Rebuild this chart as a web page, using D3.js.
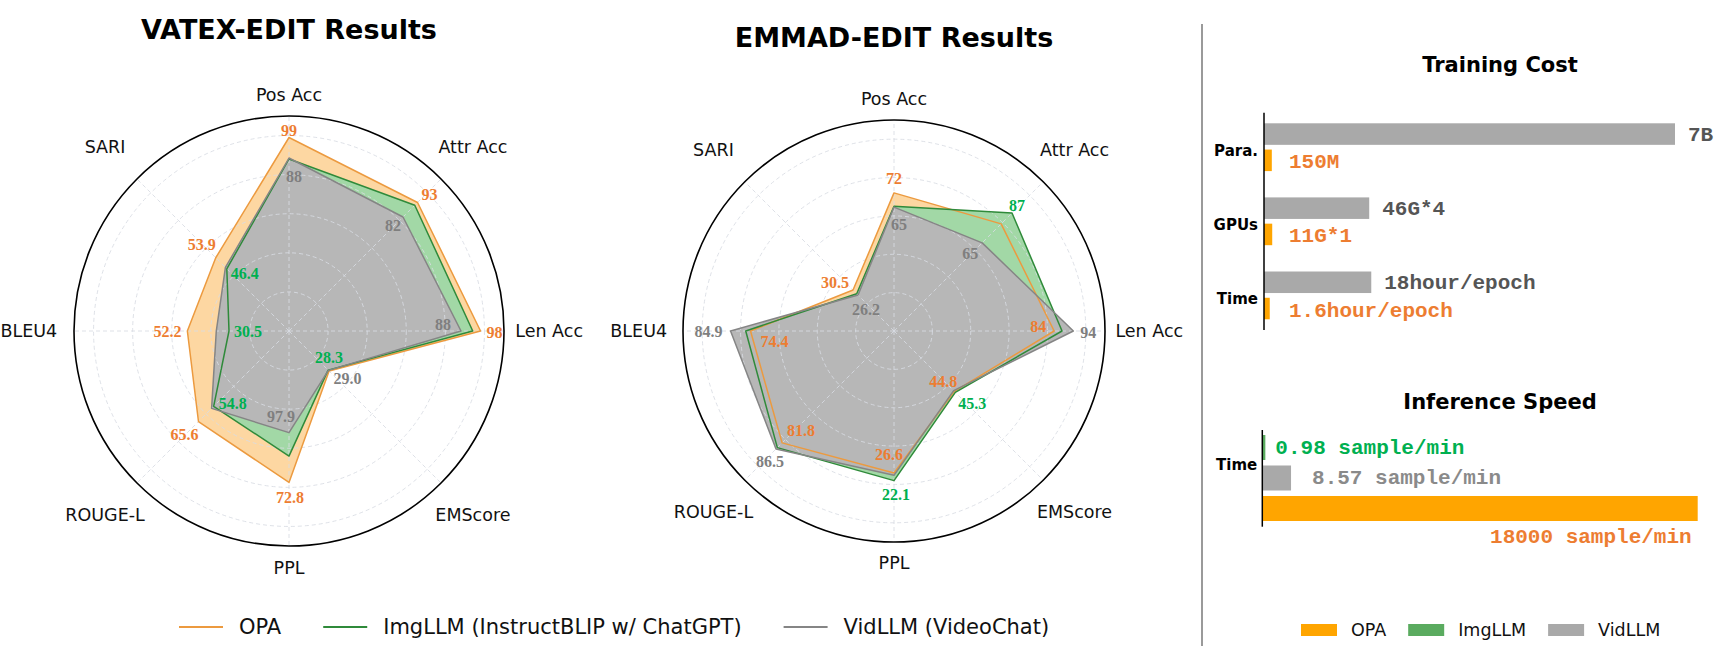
<!DOCTYPE html>
<html>
<head>
<meta charset="utf-8">
<script src="https://cdn.jsdelivr.net/npm/d3@7"></script>
<style>
  body { margin: 0; background: #fff; }
  svg { display: block; }
</style>
</head>
<body>
<div id="chart"></div>
<script>
// radar axes, clockwise from the top
var axes = ["Pos Acc", "Attr Acc", "Len Acc", "EMScore", "PPL", "ROUGE-L", "BLEU4", "SARI"];
var seriesNames = ["OPA", "ImgLLM (InstructBLIP w/ ChatGPT)", "VidLLM (VideoChat)"];

// normalised scores (radial scale runs 0 .. 1.1)
var vatexOPA = [0.99, 0.93, 0.98, 0.29, 0.775, 0.655, 0.52, 0.53];
var vatexImg = [0.88, 0.91, 0.94, 0.283, 0.64, 0.545, 0.307, 0.45];
var vatexVid = [0.885, 0.825, 0.88, 0.285, 0.52, 0.56, 0.372, 0.46];

var emmadOPA = [0.72, 0.79, 0.835, 0.445, 0.74, 0.825, 0.748, 0.302];
var emmadImg = [0.65, 0.87, 0.876, 0.452, 0.78, 0.86, 0.773, 0.275];
var emmadVid = [0.646, 0.65, 0.935, 0.44, 0.752, 0.87, 0.852, 0.265];

// value labels: [series, axis, text]
var vatexLabels = [
  [0, 0, "99"], [0, 1, "93"], [0, 2, "98"], [0, 7, "53.9"], [0, 6, "52.2"], [0, 5, "65.6"], [0, 4, "72.8"],
  [1, 7, "46.4"], [1, 6, "30.5"], [1, 3, "28.3"], [1, 5, "54.8"],
  [2, 0, "88"], [2, 1, "82"], [2, 2, "88"], [2, 3, "29.0"], [2, 4, "97.9"]
];
var emmadLabels = [
  [0, 0, "72"], [0, 7, "30.5"], [0, 6, "74.4"], [0, 5, "81.8"], [0, 4, "26.6"], [0, 3, "44.8"], [0, 2, "84"],
  [1, 1, "87"], [1, 3, "45.3"], [1, 4, "22.1"],
  [2, 0, "65"], [2, 1, "65"], [2, 7, "26.2"], [2, 6, "84.9"], [2, 5, "86.5"], [2, 2, "94"]
];

// training cost (bar lengths relative to the 7B bar)
var costCats = ["Para.", "GPUs", "Time"];
var costVid = [1.0, 0.256, 0.261];
var costOPA = [0.019, 0.02, 0.014];
var costVidText = ["7B", "46G*4", "18hour/epoch"];
var costOPAText = ["150M", "11G*1", "1.6hour/epoch"];

// inference speed (bar lengths relative to the OPA bar)
var speedCats = ["ImgLLM", "VidLLM", "OPA"];
var speedVals = [0.007, 0.066, 1.0];
var speedText = ["0.98 sample/min", "8.57 sample/min", "18000 sample/min"];

var barLegend = ["OPA", "ImgLLM", "VidLLM"];

// styles
var lineColors = ["#ec9a3f", "#2f8a3a", "#858585"];
var fillColors = ["#fdd7a2", "#a2d8a6", "#b7b7b7"];
var textColors = ["#ed7d31", "#00b050", "#7f7f7f"];
var barColors = { OPA: "#ffa500", ImgLLM: "#5aab5f", VidLLM: "#a9a9a9" };

// nudges (px) of the value labels from their vertex, same order as the label lists
var vatexNudge = [
  [0, -7], [12, -8], [14, 1], [-14, -13], [-20, 0], [-14, 13], [1, 15],
  [18, 5], [19, 0], [1, -13], [19, -3],
  [5, 18], [-10, 9], [-18, -7], [19, 8], [-8, -16]
];
var emmadNudge = [
  [0, -14], [-18, -8], [24, 10], [19, -12], [-5, -18], [-11, -10], [-16, -5],
  [5, -8], [17, 11], [2, 14],
  [5, 17], [-12, 11], [8, 14], [-22, 0], [-6, 12], [15, 1]
];

var W = 1724, H = 669;
var sans = "'DejaVu Sans', sans-serif";
var serif = "'Liberation Serif', 'Times New Roman', serif";
var mono = "'Liberation Mono', 'Courier New', monospace";

var svg = d3.select("#chart").append("svg")
    .attr("width", W)
    .attr("height", H);

svg.append("rect").attr("width", W).attr("height", H).attr("fill", "#fff");

function drawRadar(opts) {
    var g = svg.append("g")
        .attr("transform", "translate(" + opts.cx + "," + opts.cy + ")");

    var r = d3.scaleLinear().domain([0, 1.1]).range([0, opts.R]);
    var step = 2 * Math.PI / axes.length;
    var ang = function(i) { return i * step; };

    var radial = d3.lineRadial()
        .angle(function(d, i) { return ang(i); })
        .radius(function(d) { return r(d); })
        .curve(d3.curveLinearClosed);

    // fills
    g.selectAll("path.fill")
        .data(opts.series)
        .enter().append("path")
        .attr("class", "fill")
        .attr("d", radial)
        .attr("fill", function(d, i) { return fillColors[i]; });

    // dashed grid
    g.selectAll("circle.ring")
        .data([0.2, 0.4, 0.6, 0.8, 1.0])
        .enter().append("circle")
        .attr("class", "ring")
        .attr("r", function(d) { return r(d); })
        .attr("fill", "none")
        .attr("stroke", "#d8dce3")
        .attr("stroke-opacity", 0.85)
        .attr("stroke-width", 1)
        .attr("stroke-dasharray", "4,3");

    g.selectAll("line.spoke")
        .data(axes)
        .enter().append("line")
        .attr("class", "spoke")
        .attr("x1", 0).attr("y1", 0)
        .attr("x2", function(d, i) { return r(1.1) * Math.sin(ang(i)); })
        .attr("y2", function(d, i) { return -r(1.1) * Math.cos(ang(i)); })
        .attr("stroke", "#d8dce3")
        .attr("stroke-opacity", 0.85)
        .attr("stroke-width", 1)
        .attr("stroke-dasharray", "4,3");

    // outlines
    g.selectAll("path.edge")
        .data(opts.series)
        .enter().append("path")
        .attr("class", "edge")
        .attr("d", radial)
        .attr("fill", "none")
        .attr("stroke", function(d, i) { return lineColors[i]; })
        .attr("stroke-width", 1.5)
        .attr("stroke-linejoin", "round");

    // outer frame
    g.append("circle")
        .attr("r", r(1.1))
        .attr("fill", "none")
        .attr("stroke", "#000")
        .attr("stroke-width", 1.6);

    // axis names
    g.selectAll("text.axis")
        .data(axes)
        .enter().append("text")
        .attr("class", "axis")
        .attr("x", function(d, i) {
            var k = Math.abs(Math.sin(ang(i))) < 0.01 ? 1.10 : 1.21;
            return opts.R * k * Math.sin(ang(i));
        })
        .attr("y", function(d, i) {
            var k = Math.abs(Math.sin(ang(i))) < 0.01 ? 1.10 : 1.21;
            return -opts.R * k * Math.cos(ang(i));
        })
        .attr("text-anchor", "middle")
        .attr("dominant-baseline", "central")
        .style("font-family", sans)
        .style("font-size", "17.5px")
        .attr("fill", "#111")
        .text(function(d) { return d; });

    // value labels
    g.selectAll("text.val")
        .data(opts.labels)
        .enter().append("text")
        .attr("class", "val")
        .attr("x", function(d, k) {
            var v = opts.series[d[0]][d[1]];
            return r(v) * Math.sin(ang(d[1])) + opts.nudge[k][0];
        })
        .attr("y", function(d, k) {
            var v = opts.series[d[0]][d[1]];
            return -r(v) * Math.cos(ang(d[1])) + opts.nudge[k][1];
        })
        .attr("text-anchor", "middle")
        .attr("dominant-baseline", "central")
        .style("font-family", serif)
        .style("font-weight", "bold")
        .style("font-size", "16px")
        .attr("fill", function(d) { return textColors[d[0]]; })
        .text(function(d) { return d[2]; });

    // title
    svg.append("text")
        .attr("x", opts.cx)
        .attr("y", opts.titleY)
        .attr("text-anchor", "middle")
        .style("font-family", sans)
        .style("font-weight", "bold")
        .style("font-size", "27px")
        .attr("fill", "#000")
        .text(opts.title);
}

drawRadar({
    cx: 289, cy: 331, R: 215, titleY: 39,
    title: "VATEX-EDIT Results",
    series: [vatexOPA, vatexImg, vatexVid],
    labels: vatexLabels, nudge: vatexNudge
});

drawRadar({
    cx: 894, cy: 331, R: 211, titleY: 47,
    title: "EMMAD-EDIT Results",
    series: [emmadOPA, emmadImg, emmadVid],
    labels: emmadLabels, nudge: emmadNudge
});

// shared legend under the radars
var leg = svg.append("g").attr("transform", "translate(179,627)");
var lx = 0;
seriesNames.forEach(function(name, i) {
    leg.append("line")
        .attr("x1", lx).attr("x2", lx + 44)
        .attr("y1", 0).attr("y2", 0)
        .attr("stroke", lineColors[i])
        .attr("stroke-width", 2);
    var t = leg.append("text")
        .attr("x", lx + 60)
        .attr("y", 0)
        .attr("dominant-baseline", "central")
        .style("font-family", sans)
        .style("font-size", "21px")
        .attr("fill", "#111")
        .text(name);
    lx += 60 + t.node().getComputedTextLength() + 42;
});

// divider
svg.append("line")
    .attr("x1", 1202).attr("x2", 1202)
    .attr("y1", 24).attr("y2", 646)
    .attr("stroke", "#9a9a9a")
    .attr("stroke-width", 2);

// ---- Training Cost ----
var costX = d3.scaleLinear().domain([0, 1]).range([1264, 1675]);
var costY = d3.scaleBand().domain(costCats).range([123.3, 319.3]).paddingInner(0.355);
var costSub = d3.scaleBand().domain(["VidLLM", "OPA"]).range([0, costY.bandwidth()]).paddingInner(0.18);

svg.append("text")
    .attr("x", 1500).attr("y", 71.7)
    .attr("text-anchor", "middle")
    .style("font-family", sans).style("font-weight", "bold").style("font-size", "21px")
    .text("Training Cost");

var cost = svg.append("g");
costCats.forEach(function(c, i) {
    var y0 = costY(c);
    var yv = y0 + costSub("VidLLM"), yo = y0 + costSub("OPA"), bh = costSub.bandwidth();
    cost.append("rect")
        .attr("x", costX(0)).attr("y", yv)
        .attr("width", costX(costVid[i]) - costX(0)).attr("height", bh)
        .attr("fill", barColors.VidLLM);
    cost.append("rect")
        .attr("x", costX(0)).attr("y", yo)
        .attr("width", costX(costOPA[i]) - costX(0)).attr("height", bh)
        .attr("fill", barColors.OPA);
    cost.append("text")
        .attr("x", costX(costVid[i]) + 13).attr("y", yv + bh / 2 + 7)
        .style("font-family", mono).style("font-weight", "bold").style("font-size", "21px")
        .attr("fill", "#555")
        .text(costVidText[i]);
    cost.append("text")
        .attr("x", costX(0) + 25).attr("y", yo + bh / 2 + 8)
        .style("font-family", mono).style("font-weight", "bold").style("font-size", "21px")
        .attr("fill", textColors[0])
        .text(costOPAText[i]);
    cost.append("text")
        .attr("x", costX(0) - 6).attr("y", y0 + costY.bandwidth() / 2 + 8.5)
        .attr("text-anchor", "end")
        .style("font-family", sans).style("font-weight", "bold").style("font-size", "15px")
        .text(c);
});

cost.append("line")
    .attr("x1", costX(0)).attr("x2", costX(0))
    .attr("y1", 112.7).attr("y2", 330)
    .attr("stroke", "#000").attr("stroke-width", 1.5);

// ---- Inference Speed ----
var speedX = d3.scaleLinear().domain([0, 1]).range([1262.3, 1697.7]);
var speedY = d3.scaleBand().domain(speedCats).range([435, 521]).paddingInner(0.18);

svg.append("text")
    .attr("x", 1500).attr("y", 408.5)
    .attr("text-anchor", "middle")
    .style("font-family", sans).style("font-weight", "bold").style("font-size", "21px")
    .text("Inference Speed");

var speed = svg.append("g");
speed.selectAll("rect")
    .data(speedCats)
    .enter().append("rect")
    .attr("x", speedX(0))
    .attr("y", function(d) { return speedY(d); })
    .attr("width", function(d, i) { return speedX(speedVals[i]) - speedX(0); })
    .attr("height", speedY.bandwidth())
    .attr("fill", function(d) { return barColors[d]; });

var bw = speedY.bandwidth();
speed.append("text")
    .attr("x", speedX(speedVals[0]) + 10).attr("y", speedY("ImgLLM") + bw / 2 + 6)
    .style("font-family", mono).style("font-weight", "bold").style("font-size", "21px")
    .attr("fill", textColors[1]).text(speedText[0]);
speed.append("text")
    .attr("x", speedX(speedVals[1]) + 21).attr("y", speedY("VidLLM") + bw / 2 + 6)
    .style("font-family", mono).style("font-weight", "bold").style("font-size", "21px")
    .attr("fill", "#8a8a8a").text(speedText[1]);
speed.append("text")
    .attr("x", speedX(speedVals[2]) - 6).attr("y", speedY("OPA") + bw + 22)
    .attr("text-anchor", "end")
    .style("font-family", mono).style("font-weight", "bold").style("font-size", "21px")
    .attr("fill", textColors[0]).text(speedText[2]);
speed.append("text")
    .attr("x", speedX(0) - 5).attr("y", speedY("VidLLM") + 5)
    .attr("text-anchor", "end")
    .style("font-family", sans).style("font-weight", "bold").style("font-size", "15px")
    .text("Time");

speed.append("line")
    .attr("x1", speedX(0)).attr("x2", speedX(0))
    .attr("y1", 430).attr("y2", 526.7)
    .attr("stroke", "#000").attr("stroke-width", 1.5);

// bar legend
var bleg = svg.append("g").attr("transform", "translate(1301,630)");
var bx = 0;
barLegend.forEach(function(name) {
    bleg.append("rect")
        .attr("x", bx).attr("y", -6)
        .attr("width", 36).attr("height", 12)
        .attr("fill", barColors[name]);
    var t = bleg.append("text")
        .attr("x", bx + 50).attr("y", 0)
        .attr("dominant-baseline", "central")
        .style("font-family", sans).style("font-size", "17.5px")
        .attr("fill", "#111")
        .text(name);
    bx += 50 + t.node().getComputedTextLength() + 22;
});
</script>
</body>
</html>
